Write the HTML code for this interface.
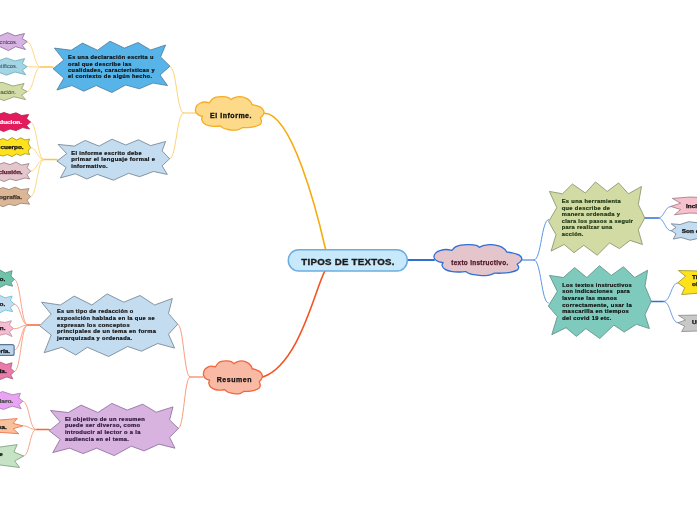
<!DOCTYPE html>
<html><head><meta charset="utf-8"><style>
html,body{margin:0;padding:0;background:#fff;width:697px;height:520px;overflow:hidden}
svg text{font-family:"Liberation Sans",sans-serif;white-space:pre}
svg{will-change:transform}
</style></head><body>
<svg width="697" height="520" viewBox="0 0 697 520" style="display:block">
<path d="M263.5,113.3 C291.6,111.5 317.3,212.9 325.5,249" fill="none" stroke="#f7ab0c" stroke-width="1.6" stroke-linecap="round"/>
<path d="M324.8,271.2 C315.1,288.8 299.3,364.3 262.8,377" fill="none" stroke="#f45424" stroke-width="1.6" stroke-linecap="round"/>
<path d="M407,260 L434,260" fill="none" stroke="#2f6fd6" stroke-width="2" stroke-linecap="round"/>
<path d="M196,113 L183.5,113" fill="none" stroke="#f9c552" stroke-width="1.2" stroke-linecap="round"/>
<path d="M183.5,113 C176.75,113 176.75,66.5 170,66.5" fill="none" stroke="#fcd27a" stroke-width="1" stroke-linecap="round"/>
<path d="M183.5,113 C176.55,113 176.55,158.8 169.6,158.8" fill="none" stroke="#fcd27a" stroke-width="1" stroke-linecap="round"/>
<path d="M53,67 L40.5,67" fill="none" stroke="#f9c552" stroke-width="1.5" stroke-linecap="round"/>
<path d="M40.5,67 C33.8,67 33.8,42 27.1,42" fill="none" stroke="#fcd27a" stroke-width="0.9" stroke-linecap="round"/>
<path d="M40.5,67 L27.1,66.7" fill="none" stroke="#fcd27a" stroke-width="0.9" stroke-linecap="round"/>
<path d="M40.5,67 C33.8,67 33.8,91.6 27.1,91.6" fill="none" stroke="#fcd27a" stroke-width="0.9" stroke-linecap="round"/>
<path d="M57,159.5 L43.7,159.5" fill="none" stroke="#f9c552" stroke-width="1.5" stroke-linecap="round"/>
<path d="M43.7,159.5 C37.150000000000006,159.5 37.150000000000006,122 30.6,122" fill="none" stroke="#fcd27a" stroke-width="0.9" stroke-linecap="round"/>
<path d="M43.7,159.5 C37.150000000000006,159.5 37.150000000000006,147.6 30.6,147.6" fill="none" stroke="#fcd27a" stroke-width="0.9" stroke-linecap="round"/>
<path d="M43.7,159.5 C37.150000000000006,159.5 37.150000000000006,171.2 30.6,171.2" fill="none" stroke="#fcd27a" stroke-width="0.9" stroke-linecap="round"/>
<path d="M43.7,159.5 C37.150000000000006,159.5 37.150000000000006,196.6 30.6,196.6" fill="none" stroke="#fcd27a" stroke-width="0.9" stroke-linecap="round"/>
<path d="M203,377 L190,377" fill="none" stroke="#f5673a" stroke-width="1.2" stroke-linecap="round"/>
<path d="M190,377 C183.85,377 183.85,324.2 177.7,324.2" fill="none" stroke="#f99a7c" stroke-width="1" stroke-linecap="round"/>
<path d="M190,377 C184.2,377 184.2,428.4 178.4,428.4" fill="none" stroke="#f99a7c" stroke-width="1" stroke-linecap="round"/>
<path d="M39.6,325.1 L27.4,325.1" fill="none" stroke="#f5673a" stroke-width="1.5" stroke-linecap="round"/>
<path d="M27.4,325.1 C20.9,325.1 20.9,279.3 14.4,279.3" fill="none" stroke="#f99a7c" stroke-width="0.9" stroke-linecap="round"/>
<path d="M27.4,325.1 C20.9,325.1 20.9,304.1 14.4,304.1" fill="none" stroke="#f99a7c" stroke-width="0.9" stroke-linecap="round"/>
<path d="M27.4,325.1 C20.9,325.1 20.9,328.7 14.4,328.7" fill="none" stroke="#f99a7c" stroke-width="0.9" stroke-linecap="round"/>
<path d="M27.4,325.1 C20.9,325.1 20.9,350 14.4,350" fill="none" stroke="#f99a7c" stroke-width="0.9" stroke-linecap="round"/>
<path d="M27.4,325.1 C20.9,325.1 20.9,371.7 14.4,371.7" fill="none" stroke="#f99a7c" stroke-width="0.9" stroke-linecap="round"/>
<path d="M49.2,429.5 L35.9,429.5" fill="none" stroke="#f5673a" stroke-width="1.5" stroke-linecap="round"/>
<path d="M35.9,429.5 C29.4,429.5 29.4,401.3 22.9,401.3" fill="none" stroke="#f99a7c" stroke-width="0.9" stroke-linecap="round"/>
<path d="M35.9,429.5 C29.4,429.5 29.4,425.8 22.9,425.8" fill="none" stroke="#f99a7c" stroke-width="0.9" stroke-linecap="round"/>
<path d="M35.9,429.5 C29.799999999999997,429.5 29.799999999999997,456 23.7,456" fill="none" stroke="#f99a7c" stroke-width="0.9" stroke-linecap="round"/>
<path d="M522.5,260 L534.2,260" fill="none" stroke="#2f6fd6" stroke-width="1.2" stroke-linecap="round"/>
<path d="M534.2,260 C541.4000000000001,260 541.4000000000001,219.5 548.6,219.5" fill="none" stroke="#5b95e6" stroke-width="1" stroke-linecap="round"/>
<path d="M534.2,260 C541.25,260 541.25,303 548.3,303" fill="none" stroke="#5b95e6" stroke-width="1" stroke-linecap="round"/>
<path d="M644.8,218 L658.2,218" fill="none" stroke="#2f6fd6" stroke-width="1.3" stroke-linecap="round"/>
<path d="M658.2,218 C664.45,218 664.45,206.6 670.7,206.6" fill="none" stroke="#5b95e6" stroke-width="0.9" stroke-linecap="round"/>
<path d="M658.2,218 C664.7,218 664.7,230.9 671.2,230.9" fill="none" stroke="#5b95e6" stroke-width="0.9" stroke-linecap="round"/>
<path d="M651.3,301.5 L663.9,301.5" fill="none" stroke="#2f6fd6" stroke-width="1.3" stroke-linecap="round"/>
<path d="M663.9,301.5 C670.8499999999999,301.5 670.8499999999999,282.8 677.8,282.8" fill="none" stroke="#5b95e6" stroke-width="0.9" stroke-linecap="round"/>
<path d="M663.9,301.5 C670.8499999999999,301.5 670.8499999999999,322.8 677.8,322.8" fill="none" stroke="#5b95e6" stroke-width="0.9" stroke-linecap="round"/>
<path d="M54.4,48.1 L71.2,50.2 L82.5,43.1 L97.5,50.2 L110.0,41.2 L124.4,48.1 L138.1,42.5 L150.6,50.0 L165.6,45.0 L160.6,56.9 L170.0,66.2 L160.0,75.0 L167.5,85.6 L153.0,83.0 L139.4,88.8 L125.6,85.0 L111.9,92.5 L96.2,85.6 L83.8,91.2 L71.9,85.6 L56.9,90.0 L63.8,78.1 L53.1,68.8 L63.8,60.0Z" fill="#56b4e9" stroke="#4d7a99" stroke-width="0.8" stroke-linejoin="miter"/>
<path d="M58.1,144.4 L74.2,146.1 L85.2,140.4 L99.0,146.1 L112.0,139.2 L125.8,145.0 L138.4,139.8 L150.6,145.6 L165.6,141.5 L162.1,150.8 L169.6,158.8 L162.1,165.8 L167.3,174.4 L153.4,171.5 L139.6,176.7 L128.6,173.3 L113.5,180.2 L97.3,174.4 L86.9,179.0 L75.4,173.8 L60.4,177.9 L66.1,167.5 L56.9,161.1 L66.7,153.6Z" fill="#c3dcf0" stroke="#6f7f8f" stroke-width="0.8" stroke-linejoin="miter"/>
<path d="M549.4,191.4 L562.5,193.8 L572.4,184.0 L585.4,193.0 L595.5,181.9 L607.2,191.4 L618.6,182.9 L628.4,193.8 L641.5,186.5 L638.3,204.4 L644.8,218.0 L638.3,229.8 L642.4,244.5 L630.1,240.4 L619.4,248.6 L609.6,242.9 L597.2,255.2 L583.8,245.3 L574.0,252.7 L564.2,244.5 L551.1,251.1 L556.0,234.7 L548.6,221.6 L556.8,207.7Z" fill="#d3dba4" stroke="#7f8f6a" stroke-width="0.8" stroke-linejoin="miter"/>
<path d="M549.5,275.4 L563.4,277.5 L574.6,267.5 L586.8,277.5 L599.5,265.7 L611.3,275.4 L623.4,266.8 L634.6,277.5 L647.6,270.2 L645.0,286.2 L651.3,301.2 L645.0,314.7 L649.4,328.6 L636.4,324.3 L624.2,332.1 L613.9,325.1 L599.8,338.5 L585.9,328.6 L576.4,336.4 L566.0,327.7 L551.8,334.7 L557.3,316.5 L548.3,306.1 L557.3,291.4Z" fill="#7ecbbd" stroke="#5b8b82" stroke-width="0.8" stroke-linejoin="miter"/>
<path d="M41.5,302.2 L60.4,305.0 L74.2,296.1 L91.9,305.0 L107.1,293.9 L123.8,302.2 L140.0,295.5 L154.6,305.0 L172.3,298.5 L168.5,313.5 L177.7,324.2 L168.5,334.2 L174.6,348.1 L157.7,343.5 L141.5,351.2 L127.7,346.5 L108.6,356.5 L87.3,347.3 L75.8,355.0 L61.9,347.3 L44.2,352.7 L51.2,335.0 L39.6,325.8 L51.2,314.2Z" fill="#c3dcf0" stroke="#6f7f8f" stroke-width="0.8" stroke-linejoin="miter"/>
<path d="M50.5,410.5 L68.3,412.5 L81.1,405.1 L97.9,412.5 L111.9,403.4 L127.2,410.1 L142.7,404.2 L156.2,412.2 L173.0,406.9 L169.6,419.9 L178.4,428.4 L169.6,437.4 L175.0,448.2 L158.9,444.2 L144.1,450.9 L131.3,446.2 L114.2,455.6 L96.6,448.2 L83.1,453.6 L69.6,448.2 L52.8,452.6 L60.2,439.4 L49.2,430.7 L60.2,421.9Z" fill="#d9b3e0" stroke="#86699a" stroke-width="0.8" stroke-linejoin="miter"/>
<path d="M-20.0,35.8 L-7.5,32.6 L0.0,35.8 L7.6,32.6 L15.2,35.8 L24.5,33.5 L22.2,38.6 L27.2,41.6 L22.2,45.5 L25.6,49.5 L15.7,46.7 L8.5,50.6 L0.0,46.7 L-8.0,50.6 L-20.0,47.0Z" fill="#d8b4e2" stroke="#8a6a9a" stroke-width="0.8" stroke-linejoin="miter"/>
<path d="M-20.0,61.0 L-2.0,61.0 L6.5,57.9 L15.0,61.0 L24.6,58.6 L22.4,63.6 L27.1,66.7 L22.4,70.0 L25.6,74.7 L15.0,72.0 L6.5,75.2 L-2.0,72.0 L-20.0,72.0Z" fill="#a3d5e5" stroke="#6aa8b8" stroke-width="0.8" stroke-linejoin="miter"/>
<path d="M-20.0,86.0 L-7.0,82.5 L3.0,82.5 L13.0,86.0 L24.1,83.5 L21.6,88.5 L27.1,91.6 L21.6,95.0 L25.6,99.6 L14.0,96.8 L4.0,100.6 L-6.0,96.8 L-20.0,100.0Z" fill="#d3dca6" stroke="#8a9a70" stroke-width="0.8" stroke-linejoin="miter"/>
<path d="M-20.0,114.5 L-2.0,114.5 L4.0,112.5 L10.0,114.5 L16.0,112.8 L21.6,115.5 L28.6,114.5 L26.6,118.5 L30.6,122.0 L26.6,125.6 L29.6,129.0 L22.6,127.6 L16.0,130.6 L10.0,129.0 L3.5,131.6 L-2.0,129.0 L-20.0,129.0Z" fill="#e31b5c" stroke="#b0204a" stroke-width="0.8" stroke-linejoin="miter"/>
<path d="M-20.0,140.5 L-2.0,140.5 L3.0,138.5 L7.5,140.5 L12.0,137.5 L16.6,140.0 L20.6,137.8 L25.1,140.0 L29.6,139.0 L28.1,143.0 L30.6,147.6 L28.1,151.0 L29.6,154.6 L25.1,153.6 L20.6,155.6 L16.6,154.0 L12.0,156.6 L7.5,154.6 L3.0,156.1 L-2.0,154.6 L-20.0,154.6Z" fill="#ffe21c" stroke="#9a9020" stroke-width="0.8" stroke-linejoin="miter"/>
<path d="M-20.0,164.6 L-2.0,164.6 L4.0,162.6 L10.0,164.6 L16.0,162.1 L21.6,165.1 L29.1,163.6 L27.1,167.6 L30.6,171.2 L27.1,174.7 L29.6,179.0 L25.1,178.0 L16.0,180.6 L10.0,179.0 L4.0,181.6 L-2.0,179.0 L-20.0,179.0Z" fill="#e4c6cd" stroke="#9a7a82" stroke-width="0.8" stroke-linejoin="miter"/>
<path d="M-20.0,189.6 L-3.0,189.6 L3.0,187.6 L9.0,189.6 L15.0,187.1 L21.0,189.6 L29.1,188.6 L27.1,193.1 L30.6,196.6 L27.1,200.2 L29.6,204.2 L21.0,203.2 L15.0,205.7 L9.0,204.2 L3.0,206.7 L-3.0,204.2 L-20.0,204.2Z" fill="#dcb797" stroke="#9a8070" stroke-width="0.8" stroke-linejoin="miter"/>
<path d="M-20.0,273.0 L-5.0,273.0 L0.0,270.0 L5.2,273.0 L12.1,270.7 L11.0,275.9 L14.4,279.3 L11.0,282.8 L12.7,286.2 L5.8,284.5 L0.0,287.4 L-5.0,284.5 L-20.0,284.5Z" fill="#6dc4a9" stroke="#5a8a80" stroke-width="0.8" stroke-linejoin="miter"/>
<path d="M-20.0,297.8 L-5.0,297.8 L0.0,295.5 L5.2,297.8 L12.1,296.0 L10.4,300.7 L14.4,304.1 L10.4,307.6 L12.7,311.7 L5.2,310.0 L0.0,312.8 L-5.0,310.0 L-20.0,310.0Z" fill="#c3dcf0" stroke="#5cc0d4" stroke-width="0.8" stroke-linejoin="miter"/>
<path d="M-20.0,321.7 L0.0,321.7 L5.0,322.5 L11.4,320.7 L9.4,325.1 L13.5,328.5 L9.4,331.8 L12.1,336.5 L6.0,333.8 L0.0,335.2 L-20.0,335.2Z" fill="#f6bdd2" stroke="#c08aa0" stroke-width="0.8" stroke-linejoin="miter"/>
<path d="M-20.0,362.1 L0.0,362.1 L6.0,364.5 L12.1,362.8 L10.8,368.2 L14.1,371.5 L10.8,374.9 L12.8,378.9 L6.7,376.9 L0.0,379.6 L-20.0,379.6Z" fill="#e97aa9" stroke="#a85878" stroke-width="0.8" stroke-linejoin="miter"/>
<path d="M-20.0,394.8 L-5.0,394.8 L2.5,391.5 L12.3,394.8 L20.4,393.2 L18.8,398.0 L22.9,401.3 L18.8,404.6 L21.2,408.7 L12.3,406.2 L3.3,409.5 L-5.0,406.2 L-20.0,406.2Z" fill="#e8a3f2" stroke="#a878b8" stroke-width="0.8" stroke-linejoin="miter"/>
<path d="M-20.0,420.0 L0.0,420.0 L17.2,418.5 L13.1,423.4 L22.9,425.8 L13.1,428.8 L18.8,433.7 L0.0,432.4 L-20.0,432.4Z" fill="#f7c19b" stroke="#f06a40" stroke-width="0.8" stroke-linejoin="miter"/>
<path d="M-20.0,447.0 L0.0,447.0 L17.2,444.6 L13.9,452.0 L23.7,456.0 L14.7,461.0 L19.6,467.5 L0.0,465.0 L-20.0,465.0Z" fill="#c6e3c6" stroke="#7a9a7a" stroke-width="0.8" stroke-linejoin="miter"/>
<path d="M672.3,198.4 L680.7,203.2 L670.7,206.4 L680.7,209.5 L674.4,214.8 L690.0,213.0 L700.0,213.5 L700.0,197.5 L690.0,197.0Z" fill="#f6c1cd" stroke="#9a7a82" stroke-width="0.8" stroke-linejoin="miter"/>
<path d="M671.2,223.8 L676.0,227.5 L671.2,230.7 L676.0,233.8 L673.3,239.1 L681.0,237.5 L690.2,240.2 L700.0,238.0 L700.0,223.0 L688.6,221.7 L680.0,224.5Z" fill="#c3dcf0" stroke="#6f7f8f" stroke-width="0.8" stroke-linejoin="miter"/>
<path d="M678.5,270.5 L685.5,276.2 L677.8,282.8 L684.7,287.7 L681.6,294.6 L700.0,293.0 L700.0,271.0Z" fill="#ffe21c" stroke="#9a9020" stroke-width="0.8" stroke-linejoin="miter"/>
<path d="M678.5,315.4 L685.5,320.0 L677.8,322.8 L684.7,326.2 L681.6,331.5 L700.0,331.0 L700.0,315.0Z" fill="#c8c8c8" stroke="#888888" stroke-width="0.8" stroke-linejoin="miter"/>
<rect x="-10" y="344.6" width="24.1" height="10.8" rx="2" fill="#bcd5ee" stroke="#5c7696" stroke-width="1.2"/>
<path d="M209.40,102.82 C209.87,102.22 211.07,100.14 212.20,99.21 C213.33,98.27 214.45,97.62 216.20,97.20 C217.95,96.78 220.67,96.63 222.70,96.70 C224.73,96.77 227.05,97.12 228.40,97.60 C229.75,98.09 230.40,99.27 230.80,99.61 C231.42,99.27 232.95,98.09 234.50,97.60 C236.05,97.12 238.08,96.57 240.10,96.70 C242.12,96.83 244.85,97.59 246.60,98.41 C248.35,99.22 249.67,100.54 250.60,101.61 C251.53,102.68 251.93,104.29 252.20,104.82 C252.88,104.96 254.68,105.08 256.30,105.63 C257.92,106.18 260.62,107.05 261.90,108.13 C263.18,109.22 263.87,110.94 264.00,112.15 C264.13,113.35 263.32,114.40 262.70,115.36 C262.08,116.31 260.70,117.45 260.30,117.86 C260.50,118.40 261.50,120.00 261.50,121.07 C261.50,122.14 261.43,123.35 260.30,124.28 C259.17,125.22 256.72,126.14 254.70,126.69 C252.68,127.24 250.23,127.44 248.20,127.59 C246.17,127.74 243.45,127.59 242.50,127.59 C241.83,127.93 240.12,129.16 238.50,129.60 C236.88,130.03 234.55,130.22 232.80,130.20 C231.05,130.18 229.63,129.87 228.00,129.50 C226.37,129.13 224.28,128.60 223.00,127.99 C221.72,127.39 220.75,126.24 220.30,125.89 C219.62,125.95 217.95,126.27 216.20,126.29 C214.45,126.31 211.82,126.46 209.80,125.99 C207.78,125.52 205.45,124.57 204.10,123.48 C202.75,122.39 201.97,120.69 201.70,119.47 C201.43,118.25 202.37,116.71 202.50,116.16 C201.97,116.02 200.32,115.89 199.30,115.36 C198.28,114.82 197.05,113.88 196.40,112.95 C195.75,112.01 195.33,110.96 195.40,109.74 C195.47,108.52 196.02,106.71 196.80,105.63 C197.58,104.54 198.75,103.82 200.10,103.22 C201.45,102.62 203.35,102.08 204.90,102.02 C206.45,101.95 208.65,102.68 209.40,102.82Z" fill="#fdd98a" stroke="#f6ad22" stroke-width="1.3" stroke-linejoin="round"/>
<path d="M451.94,250.26 C452.54,249.70 454.07,247.79 455.53,246.92 C456.98,246.05 458.41,245.45 460.65,245.06 C462.89,244.68 466.38,244.54 468.98,244.60 C471.59,244.66 474.55,244.99 476.28,245.44 C478.01,245.88 478.85,246.98 479.36,247.29 C480.15,246.98 482.11,245.88 484.10,245.44 C486.09,244.99 488.69,244.48 491.28,244.60 C493.86,244.72 497.36,245.42 499.60,246.18 C501.85,246.94 503.53,248.16 504.73,249.15 C505.93,250.14 506.44,251.62 506.78,252.12 C507.66,252.24 509.96,252.35 512.03,252.86 C514.11,253.37 517.56,254.18 519.21,255.18 C520.85,256.19 521.73,257.78 521.90,258.89 C522.07,260.01 521.02,260.98 520.23,261.86 C519.44,262.75 517.67,263.80 517.16,264.18 C517.42,264.68 518.70,266.16 518.70,267.15 C518.70,268.14 518.61,269.26 517.16,270.12 C515.71,270.99 512.57,271.84 509.98,272.35 C507.40,272.86 504.26,273.05 501.65,273.19 C499.05,273.33 495.57,273.19 494.35,273.19 C493.50,273.50 491.30,274.64 489.23,275.04 C487.15,275.45 484.16,275.62 481.92,275.60 C479.68,275.58 477.86,275.29 475.77,274.95 C473.68,274.61 471.01,274.11 469.37,273.56 C467.72,273.00 466.48,271.93 465.91,271.61 C465.03,271.67 462.89,271.96 460.65,271.98 C458.41,272.00 455.04,272.13 452.45,271.70 C449.87,271.27 446.88,270.39 445.15,269.38 C443.42,268.38 442.41,266.80 442.07,265.67 C441.73,264.54 442.93,263.12 443.10,262.61 C442.41,262.48 440.30,262.36 439.00,261.86 C437.69,261.37 436.11,260.50 435.28,259.64 C434.45,258.77 433.91,257.80 434.00,256.67 C434.09,255.54 434.79,253.87 435.79,252.86 C436.80,251.85 438.29,251.19 440.02,250.63 C441.75,250.08 444.19,249.58 446.17,249.52 C448.16,249.46 450.98,250.14 451.94,250.26Z" fill="#e5c5cc" stroke="#2f6fd6" stroke-width="1.3" stroke-linejoin="round"/>
<path d="M215.44,366.93 C215.84,366.33 216.87,364.29 217.85,363.37 C218.82,362.45 219.78,361.81 221.29,361.39 C222.79,360.98 225.13,360.83 226.88,360.90 C228.63,360.97 230.62,361.31 231.78,361.79 C232.94,362.27 233.50,363.44 233.85,363.77 C234.38,363.44 235.70,362.27 237.03,361.79 C238.36,361.31 240.11,360.77 241.84,360.90 C243.58,361.03 245.93,361.77 247.43,362.58 C248.94,363.39 250.07,364.69 250.88,365.74 C251.68,366.80 252.02,368.38 252.25,368.90 C252.84,369.03 254.39,369.15 255.78,369.69 C257.17,370.24 259.49,371.09 260.59,372.16 C261.70,373.23 262.29,374.93 262.40,376.12 C262.51,377.30 261.81,378.34 261.28,379.28 C260.75,380.22 259.56,381.34 259.22,381.75 C259.39,382.27 260.25,383.86 260.25,384.91 C260.25,385.96 260.19,387.15 259.22,388.07 C258.24,388.99 256.14,389.90 254.40,390.44 C252.67,390.99 250.56,391.18 248.81,391.33 C247.06,391.48 244.73,391.33 243.91,391.33 C243.34,391.66 241.86,392.88 240.47,393.31 C239.08,393.74 237.07,393.92 235.57,393.90 C234.06,393.88 232.84,393.57 231.44,393.21 C230.03,392.85 228.24,392.32 227.14,391.73 C226.03,391.13 225.20,390.00 224.82,389.65 C224.23,389.72 222.79,390.03 221.29,390.05 C219.78,390.06 217.52,390.21 215.78,389.75 C214.05,389.29 212.04,388.35 210.88,387.28 C209.72,386.21 209.05,384.53 208.82,383.33 C208.59,382.13 209.39,380.61 209.51,380.07 C209.05,379.94 207.63,379.80 206.75,379.28 C205.88,378.75 204.82,377.83 204.26,376.91 C203.70,375.98 203.34,374.95 203.40,373.74 C203.46,372.54 203.93,370.76 204.60,369.69 C205.28,368.62 206.28,367.91 207.44,367.32 C208.60,366.73 210.24,366.20 211.57,366.14 C212.90,366.07 214.80,366.80 215.44,366.93Z" fill="#f8b9a5" stroke="#f2673c" stroke-width="1.3" stroke-linejoin="round"/>
<rect x="288.3" y="249.7" width="119" height="21.4" rx="10.5" fill="#c8e9fb" stroke="#6aaee0" stroke-width="1.5"/>
<text x="68.10" y="58.9" font-size="5.1" fill="#111" font-weight="bold" textLength="85.60" lengthAdjust="spacingAndGlyphs" stroke="#111" stroke-width="0.22" letter-spacing="0.3">Es una declaración escrita u</text>
<text x="68.10" y="65.7" font-size="5.1" fill="#111" font-weight="bold" textLength="63.67" lengthAdjust="spacingAndGlyphs" stroke="#111" stroke-width="0.22" letter-spacing="0.3">oral que describe las</text>
<text x="68.10" y="71.7" font-size="5.1" fill="#111" font-weight="bold" textLength="86.90" lengthAdjust="spacingAndGlyphs" stroke="#111" stroke-width="0.22" letter-spacing="0.3">cualidades, características y</text>
<text x="68.10" y="78.1" font-size="5.1" fill="#111" font-weight="bold" textLength="84.28" lengthAdjust="spacingAndGlyphs" stroke="#111" stroke-width="0.22" letter-spacing="0.3">el contexto de algún hecho.</text>
<text x="71.30" y="154.6" font-size="5.1" fill="#111" font-weight="bold" textLength="70.60" lengthAdjust="spacingAndGlyphs" stroke="#111" stroke-width="0.22" letter-spacing="0.3">El informe escrito debe</text>
<text x="71.30" y="161.05" font-size="5.1" fill="#111" font-weight="bold" textLength="84.10" lengthAdjust="spacingAndGlyphs" stroke="#111" stroke-width="0.22" letter-spacing="0.3">primar el lenguaje formal e</text>
<text x="71.30" y="167.5" font-size="5.1" fill="#111" font-weight="bold" textLength="36.63" lengthAdjust="spacingAndGlyphs" stroke="#111" stroke-width="0.22" letter-spacing="0.3">informativo.</text>
<text x="561.70" y="202.9" font-size="5.1" fill="#1b3512" font-weight="bold" textLength="59.40" lengthAdjust="spacingAndGlyphs" stroke="#1b3512" stroke-width="0.22" letter-spacing="0.3">Es una herramienta</text>
<text x="561.70" y="209.6" font-size="5.1" fill="#1b3512" font-weight="bold" textLength="48.73" lengthAdjust="spacingAndGlyphs" stroke="#1b3512" stroke-width="0.22" letter-spacing="0.3">que describe de</text>
<text x="561.70" y="215.7" font-size="5.1" fill="#1b3512" font-weight="bold" textLength="58.69" lengthAdjust="spacingAndGlyphs" stroke="#1b3512" stroke-width="0.22" letter-spacing="0.3">manera ordenada y</text>
<text x="561.70" y="222.5" font-size="5.1" fill="#1b3512" font-weight="bold" textLength="71.70" lengthAdjust="spacingAndGlyphs" stroke="#1b3512" stroke-width="0.22" letter-spacing="0.3">clara los pasos a seguir</text>
<text x="561.70" y="228.8" font-size="5.1" fill="#1b3512" font-weight="bold" textLength="50.87" lengthAdjust="spacingAndGlyphs" stroke="#1b3512" stroke-width="0.22" letter-spacing="0.3">para realizar una</text>
<text x="561.70" y="235.6" font-size="5.1" fill="#1b3512" font-weight="bold" textLength="22.05" lengthAdjust="spacingAndGlyphs" stroke="#1b3512" stroke-width="0.22" letter-spacing="0.3">acción.</text>
<text x="562.20" y="286.9" font-size="5.1" fill="#111" font-weight="bold" textLength="69.80" lengthAdjust="spacingAndGlyphs" stroke="#111" stroke-width="0.22" letter-spacing="0.3">Los textos instructivos</text>
<text x="562.20" y="293.45" font-size="5.1" fill="#111" font-weight="bold" textLength="67.80" lengthAdjust="spacingAndGlyphs" stroke="#111" stroke-width="0.22" letter-spacing="0.3">son indicaciones  para</text>
<text x="562.20" y="300.0" font-size="5.1" fill="#111" font-weight="bold" textLength="55.15" lengthAdjust="spacingAndGlyphs" stroke="#111" stroke-width="0.22" letter-spacing="0.3">lavarse las manos</text>
<text x="562.20" y="306.55" font-size="5.1" fill="#111" font-weight="bold" textLength="69.80" lengthAdjust="spacingAndGlyphs" stroke="#111" stroke-width="0.22" letter-spacing="0.3">correctamente, usar la</text>
<text x="562.20" y="313.1" font-size="5.1" fill="#111" font-weight="bold" textLength="66.88" lengthAdjust="spacingAndGlyphs" stroke="#111" stroke-width="0.22" letter-spacing="0.3">mascarilla en tiempos</text>
<text x="562.20" y="319.65" font-size="5.1" fill="#111" font-weight="bold" textLength="49.44" lengthAdjust="spacingAndGlyphs" stroke="#111" stroke-width="0.22" letter-spacing="0.3">del covid 19 etc.</text>
<text x="57.00" y="313.4" font-size="5.1" fill="#111" font-weight="bold" textLength="76.60" lengthAdjust="spacingAndGlyphs" stroke="#111" stroke-width="0.22" letter-spacing="0.3">Es un tipo de redacción o</text>
<text x="57.00" y="319.97" font-size="5.1" fill="#111" font-weight="bold" textLength="98.00" lengthAdjust="spacingAndGlyphs" stroke="#111" stroke-width="0.22" letter-spacing="0.3">exposición hablada en la que se</text>
<text x="57.00" y="326.54" font-size="5.1" fill="#111" font-weight="bold" textLength="72.92" lengthAdjust="spacingAndGlyphs" stroke="#111" stroke-width="0.22" letter-spacing="0.3">expresan los conceptos</text>
<text x="57.00" y="333.11" font-size="5.1" fill="#111" font-weight="bold" textLength="99.20" lengthAdjust="spacingAndGlyphs" stroke="#111" stroke-width="0.22" letter-spacing="0.3">principales de un tema en forma</text>
<text x="57.00" y="339.68" font-size="5.1" fill="#111" font-weight="bold" textLength="75.40" lengthAdjust="spacingAndGlyphs" stroke="#111" stroke-width="0.22" letter-spacing="0.3">jerarquizada y ordenada.</text>
<text x="64.90" y="420.8" font-size="5.1" fill="#2a1838" font-weight="bold" textLength="80.30" lengthAdjust="spacingAndGlyphs" stroke="#2a1838" stroke-width="0.22" letter-spacing="0.3">El objetivo de un resumen</text>
<text x="64.90" y="427.43" font-size="5.1" fill="#2a1838" font-weight="bold" textLength="75.40" lengthAdjust="spacingAndGlyphs" stroke="#2a1838" stroke-width="0.22" letter-spacing="0.3">puede ser diverso, como</text>
<text x="64.90" y="434.06" font-size="5.1" fill="#2a1838" font-weight="bold" textLength="75.80" lengthAdjust="spacingAndGlyphs" stroke="#2a1838" stroke-width="0.22" letter-spacing="0.3">introducir al lector o a la</text>
<text x="64.90" y="440.69" font-size="5.1" fill="#2a1838" font-weight="bold" textLength="64.38" lengthAdjust="spacingAndGlyphs" stroke="#2a1838" stroke-width="0.22" letter-spacing="0.3">audiencia en el tema.</text>
<text x="210.10" y="117.8" font-size="6.5" fill="#111" font-weight="bold" textLength="41.90" lengthAdjust="spacingAndGlyphs" stroke="#111" stroke-width="0.3" letter-spacing="0.5">El Informe.</text>
<text x="301.30" y="265.1" font-size="9.4" fill="#1a1a1a" font-weight="bold" textLength="93.40" lengthAdjust="spacingAndGlyphs" stroke="#1a1a1a" stroke-width="0.35" letter-spacing="0.25">TIPOS DE TEXTOS.</text>
<text x="451.20" y="264.7" font-size="6.3" fill="#4e1426" font-weight="bold" textLength="57.30" lengthAdjust="spacingAndGlyphs" stroke="#4e1426" stroke-width="0.25" letter-spacing="0.3">texto instructivo.</text>
<text x="216.70" y="381.6" font-size="6.5" fill="#111" font-weight="bold" textLength="35.30" lengthAdjust="spacingAndGlyphs" stroke="#111" stroke-width="0.25" letter-spacing="0.5">Resumen</text>
<text x="-5.38" y="43.6" font-size="5.2" fill="#4a3858" font-weight="normal" textLength="22.98" lengthAdjust="spacingAndGlyphs" stroke="#4a3858" stroke-width="0.05">técnicos.</text>
<text x="-9.91" y="68.3" font-size="5.2" fill="#34505a" font-weight="normal" textLength="27.51" lengthAdjust="spacingAndGlyphs" stroke="#34505a" stroke-width="0.05">científicos.</text>
<text x="-14.76" y="93.6" font-size="5.2" fill="#3e4a30" font-weight="normal" textLength="30.76" lengthAdjust="spacingAndGlyphs" stroke="#3e4a30" stroke-width="0.05">divulgación.</text>
<text x="-14.97" y="123.9" font-size="5.0" fill="#fff" font-weight="bold" textLength="36.97" lengthAdjust="spacingAndGlyphs" stroke="#fff" stroke-width="0.2">Introducion.</text>
<text x="0.48" y="149" font-size="5.0" fill="#111" font-weight="bold" textLength="23.12" lengthAdjust="spacingAndGlyphs" stroke="#111" stroke-width="0.25">cuerpo.</text>
<text x="-12.96" y="173.7" font-size="5.0" fill="#5a1a2c" font-weight="bold" textLength="35.56" lengthAdjust="spacingAndGlyphs" stroke="#5a1a2c" stroke-width="0.25">conclusión.</text>
<text x="-14.98" y="199" font-size="5.0" fill="#4a3a30" font-weight="bold" textLength="36.98" lengthAdjust="spacingAndGlyphs" stroke="#4a3a30" stroke-width="0.25">Bibliografía.</text>
<text x="-27.52" y="280.5" font-size="5.0" fill="#111" font-weight="bold" textLength="32.72" lengthAdjust="spacingAndGlyphs" stroke="#111" stroke-width="0.25">desarrollo.</text>
<text x="-21.11" y="305.6" font-size="5.0" fill="#111" font-weight="bold" textLength="26.31" lengthAdjust="spacingAndGlyphs" stroke="#111" stroke-width="0.25">objetivo.</text>
<text x="-35.03" y="330.2" font-size="5.0" fill="#111" font-weight="bold" textLength="40.53" lengthAdjust="spacingAndGlyphs" stroke="#111" stroke-width="0.25">introducción.</text>
<text x="-9.11" y="352.7" font-size="5.0" fill="#111" font-weight="bold" textLength="19.21" lengthAdjust="spacingAndGlyphs" stroke="#111" stroke-width="0.25">teoría.</text>
<text x="-29.57" y="373.1" font-size="5.0" fill="#111" font-weight="bold" textLength="36.27" lengthAdjust="spacingAndGlyphs" stroke="#111" stroke-width="0.25">bibliografía.</text>
<text x="-33.85" y="403" font-size="5.0" fill="#444" font-weight="bold" textLength="46.95" lengthAdjust="spacingAndGlyphs" stroke="#444" stroke-width="0.2">Lenguaje claro.</text>
<text x="-18.72" y="428.8" font-size="5.0" fill="#111" font-weight="bold" textLength="25.62" lengthAdjust="spacingAndGlyphs" stroke="#111" stroke-width="0.25">extensa.</text>
<text x="-16.30" y="455.7" font-size="5.0" fill="#111" font-weight="bold" textLength="19.20" lengthAdjust="spacingAndGlyphs" stroke="#111" stroke-width="0.25">fuente</text>
<text x="686.00" y="207.7" font-size="5.0" fill="#111" font-weight="bold" textLength="22.05" lengthAdjust="spacingAndGlyphs" stroke="#111" stroke-width="0.25">Incluye</text>
<text x="681.80" y="232.8" font-size="5.0" fill="#111" font-weight="bold" textLength="38.41" lengthAdjust="spacingAndGlyphs" stroke="#111" stroke-width="0.25">Son escritos</text>
<text x="692.00" y="279.2" font-size="5.0" fill="#111" font-weight="bold" textLength="16.95" lengthAdjust="spacingAndGlyphs" stroke="#111" stroke-width="0.25">Tipos</text>
<text x="692.00" y="286.2" font-size="5.0" fill="#111" font-weight="bold" textLength="17.43" lengthAdjust="spacingAndGlyphs" stroke="#111" stroke-width="0.25">obras</text>
<text x="692.00" y="324.3" font-size="5.0" fill="#111" font-weight="bold" textLength="15.65" lengthAdjust="spacingAndGlyphs" stroke="#111" stroke-width="0.25">Usos</text>
</svg>
</body></html>
